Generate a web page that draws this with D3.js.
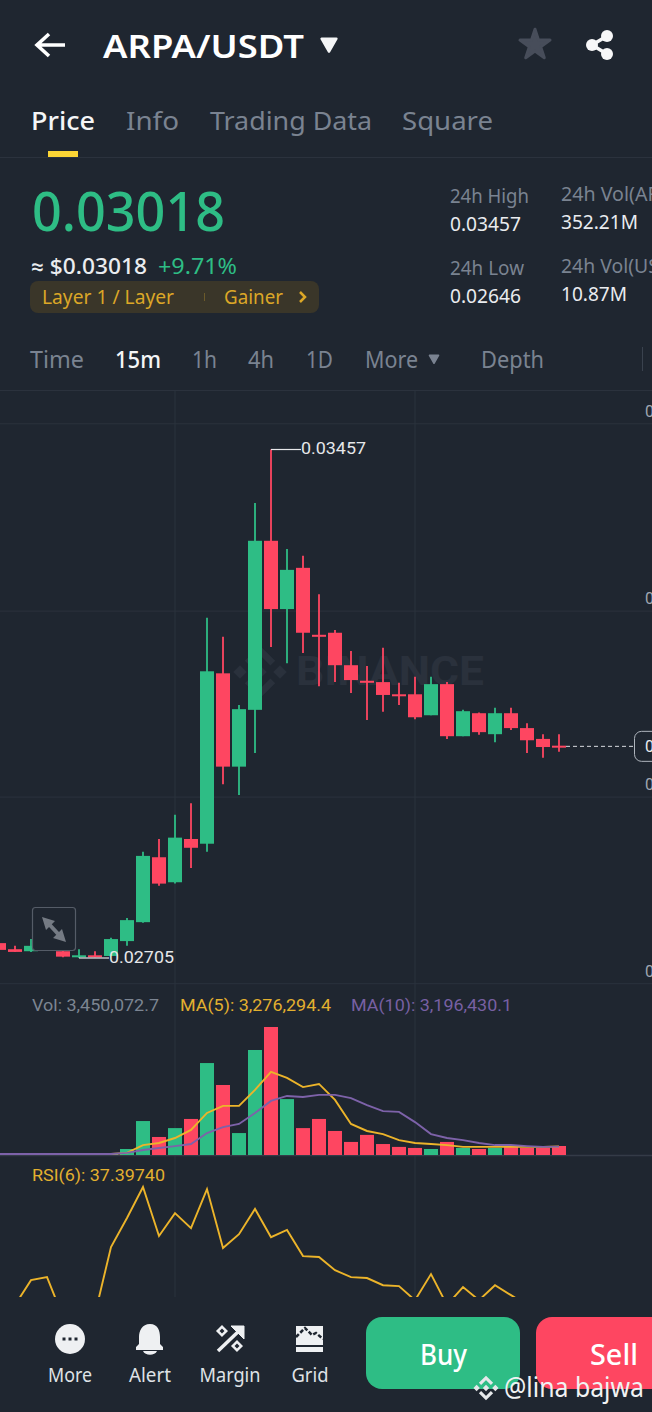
<!DOCTYPE html>
<html>
<head>
<meta charset="utf-8">
<title>ARPA/USDT</title>
<script src="https://cdn.jsdelivr.net/npm/d3@7"></script>
<style>
	html, body { margin: 0; padding: 0; background: #1f2630; overflow: hidden; }
	svg { display: block; }
	text { font-family: "Noto Sans", Roboto, sans-serif; }
</style>
</head>
<body>
<div id="chart"></div>
<script>
//candle values, left to right
var opens = [0.02727,0.02718,0.02715,0.02723,0.02715,0.02707,0.02709,0.02708,0.02730,0.02758,0.02854,0.02817,0.02881,0.02874,0.03126,0.02988,0.03072,0.03322,0.03221,0.03282,0.03183,0.03186,0.03138,0.03115,0.03113,0.03095,0.03095,0.03064,0.03110,0.03033,0.03067,0.03036,0.03067,0.03045,0.03029,0.03019];
var highs = [0.02730,0.02723,0.02733,0.02728,0.02716,0.02718,0.02715,0.02735,0.02764,0.02862,0.02881,0.02917,0.02934,0.03208,0.03180,0.03079,0.03378,0.03457,0.03310,0.03300,0.03243,0.03190,0.03159,0.03137,0.03164,0.03112,0.03121,0.03121,0.03113,0.03072,0.03068,0.03075,0.03075,0.03052,0.03036,0.03036];
var lows = [0.02715,0.02714,0.02714,0.02717,0.02706,0.02705,0.02706,0.02708,0.02723,0.02757,0.02812,0.02815,0.02838,0.02862,0.02962,0.02946,0.03008,0.03165,0.03141,0.03156,0.03107,0.03113,0.03097,0.03057,0.03069,0.03079,0.03058,0.03064,0.03029,0.03033,0.03035,0.03024,0.03042,0.03008,0.03001,0.03010];
var closes = [0.02717,0.02714,0.02723,0.02720,0.02707,0.02709,0.02707,0.02733,0.02761,0.02856,0.02815,0.02883,0.02868,0.03129,0.02988,0.03073,0.03322,0.03221,0.03279,0.03186,0.03180,0.03138,0.03116,0.03112,0.03094,0.03093,0.03061,0.03110,0.03033,0.03070,0.03039,0.03067,0.03045,0.03027,0.03017,0.03018];

//volume in millions and its moving averages
var volumes = [0.2,0.2,0.2,0.2,0.2,0.2,0.2,0.4,2.3,13.0,6.9,10.3,13.8,35.2,26.8,8.4,40.2,49.0,21.4,10.3,13.8,9.2,5.0,7.7,4.2,3.1,2.7,2.3,5.0,2.7,2.3,2.7,3.1,2.7,2.7,3.45];
var ma5 = [0.4,0.4,0.4,0.4,0.4,0.4,0.4,0.4,0.8,3.8,4.6,6.5,9.6,16.1,18.8,18.8,24.9,31.8,29.5,26.0,27.2,21.1,11.9,9.2,8.0,5.7,4.6,4.2,3.8,3.1,3.1,3.1,3.1,3.1,3.1,3.28];
var ma10 = [0.4,0.4,0.4,0.4,0.4,0.4,0.4,0.4,0.8,1.9,2.7,3.4,4.2,8.4,10.7,11.9,16.1,20.7,22.6,22.2,23.0,23.0,21.8,19.1,16.8,16.5,12.6,8.0,6.5,5.7,4.6,3.8,3.8,3.4,3.1,3.2];

//RSI(6), mostly running below the visible part of the pane
var rsi = [40.7,45.7,54,55,41.7,40.7,42.7,65,74.7,85,68.7,76.3,71.3,84.3,64.7,69.3,77.7,68.3,70.7,62,61.7,57.3,55,54.7,52.3,52,47.3,56,45.7,51.7,47.3,52.3,49,45.7,41.3,37.3974];

var priceTicks = [0.03495, 0.03218, 0.02943, 0.02667];
var gridCandles = [11, 26]; //candles that carry a vertical grid line
var lastPrice = 0.03018, highPrice = 0.03457, lowPrice = 0.02705;
var highIndex = 17, lowIndex = 5;

var tabs = ["Price", "Info", "Trading Data", "Square"];
var intervals = ["Time", "15m", "1h", "4h", "1D", "More", "Depth"];
var tools = ["More", "Alert", "Margin", "Grid"];

//colours
var bg = "#1f2630",
	gridColour = "#2b323d",
	green = "#2ebd85",
	red = "#fe4661",
	grey = "#7a8391",
	lightText = "#eaecef",
	yellow = "#ecb42a",
	purple = "#7d62a9";

var width = 652, height = 1412;

var svg = d3.select("#chart")
	.append("svg")
	.attr("width", width)
	.attr("height", height);

//scales
var x = d3.scaleBand()
	.domain(d3.range(opens.length))
	.range([-9, 567])
	.paddingInner(0.125)
	.paddingOuter(0.0625);
var xMid = function(i) { return x(i) + x.bandwidth() / 2; };

var yPrice = d3.scaleLinear().domain([lowPrice, highPrice]).range([958, 449.5]);
var yVol = d3.scaleLinear().domain([0, 49]).range([1155, 1027]);
var yRsi = d3.scaleLinear().domain([85, 37.3974]).range([1187, 1330]);

//small helper for all the text on the page, len fits the text to a measured width
function label(str, px, py, size, colour, weight, len, anchor) {
	var t = svg.append("text")
		.attr("x", px)
		.attr("y", py)
		.attr("font-size", size)
		.attr("fill", colour)
		.attr("font-weight", weight || 400)
		.attr("text-anchor", anchor || "start")
		.text(str);
	if (len) {
		t.attr("textLength", len).attr("lengthAdjust", "spacingAndGlyphs");
	}
	return t;
}

//the labels inside the chart use Roboto
function chartLabel(str, px, py, size, colour, weight, len) {
	return label(str, px, py, size, colour, weight, len).style("font-family", "Roboto");
}

function drawHeader() {
	//back arrow
	svg.append("path")
		.attr("d", "M36 45H65M49 34L37 45L49 56")
		.attr("fill", "none")
		.attr("stroke", "#fff")
		.attr("stroke-width", 3.6);
	label("ARPA/USDT", 103, 58, 32, "#fff", 600, 201);

	//dropdown triangle
	svg.append("path")
		.attr("d", d3.symbol(d3.symbolTriangle, 95))
		.attr("transform", "translate(329,43) rotate(180)")
		.attr("fill", "#f4f5f6")
		.attr("stroke", "#f4f5f6")
		.attr("stroke-width", 2.5)
		.attr("stroke-linejoin", "round");

	//star
	svg.append("path")
		.attr("d", d3.symbol(d3.symbolStar, 280))
		.attr("transform", "translate(535,45)")
		.attr("fill", "#474d5a")
		.attr("stroke", "#474d5a")
		.attr("stroke-width", 3)
		.attr("stroke-linejoin", "round");

	//share
	var share = svg.append("g").attr("fill", "#f7f7f8").attr("stroke", "#f7f7f8");
	share.append("path").attr("d", "M607 36L592 45L607 54").attr("fill", "none").attr("stroke-width", 3.5);
	[[592, 45], [607, 36], [607, 54]].forEach(function(p) {
		share.append("circle").attr("cx", p[0]).attr("cy", p[1]).attr("r", 6).attr("stroke", "none");
	});

	//tabs
	var tabX = [31, 126, 210, 402], tabLen = [64, 53, 162, 91];
	tabs.forEach(function(d, i) {
		label(d, tabX[i], 130, 26, i == 0 ? "#f5f6f7" : grey, i == 0 ? 500 : 400, tabLen[i]);
	});
	svg.append("rect").attr("x", 0).attr("y", 157).attr("width", width).attr("height", 1).attr("fill", gridColour);
	svg.append("rect").attr("x", 48).attr("y", 151).attr("width", 30).attr("height", 6).attr("fill", "#fcd535");

	//price block
	label("0.03018", 32, 231, 55, green, 500, 193);
	label("≈ $0.03018", 31, 274, 22, lightText, 500, 116);
	label("+9.71%", 158, 274, 22, green, 400, 79);

	svg.append("rect").attr("x", 30).attr("y", 281).attr("width", 289).attr("height", 32).attr("rx", 8).attr("fill", "#3a3629");
	label("Layer 1 / Layer", 42, 304, 20, "#dca727", 400, 132);
	svg.append("rect").attr("x", 204).attr("y", 293).attr("width", 1).attr("height", 8).attr("fill", "#6b5a2a");
	label("Gainer", 224, 304, 20, "#dca727", 400, 59);
	svg.append("path").attr("d", "M300 292L305 297L300 302").attr("fill", "none").attr("stroke", "#dca727").attr("stroke-width", 2.5);

	//24h stats
	label("24h High", 450, 203, 20, grey, 400, 79);
	label("0.03457", 450, 231, 20, lightText, 400, 71);
	label("24h Low", 450, 275, 20, grey, 400, 74);
	label("0.02646", 450, 303, 20, lightText, 400, 71);
	label("24h Vol(ARPA)", 561, 201, 20, grey, 400, 128);
	label("352.21M", 561, 229, 20, lightText, 400, 77);
	label("24h Vol(USDT)", 561, 273, 20, grey, 400, 128);
	label("10.87M", 561, 301, 20, lightText, 400, 66);

	//interval row
	var intX = [30, 115, 192, 248, 306, 365, 481], intLen = [54, 46, 25, 26, 27, 53, 63];
	intervals.forEach(function(d, i) {
		label(d, intX[i], 368, 23, d == "15m" ? "#f5f6f7" : grey, d == "15m" ? 500 : 400, intLen[i]);
	});
	svg.append("path")
		.attr("d", d3.symbol(d3.symbolTriangle, 36))
		.attr("transform", "translate(434,358) rotate(180)")
		.attr("fill", grey)
		.attr("stroke", grey)
		.attr("stroke-width", 1.5)
		.attr("stroke-linejoin", "round");
	svg.append("rect").attr("x", 642).attr("y", 347).attr("width", 1).attr("height", 24).attr("fill", "#3a424e");
}

function binanceLogo(g, cx, cy, s, colour) {
	//the diamond mark: one square in the middle, corners round it
	[[0, 0, 0.3], [-1, 0, 0.3], [1, 0, 0.3]].forEach(function(p) {
		g.append("rect")
			.attr("x", -s * p[2]).attr("y", -s * p[2])
			.attr("width", s * p[2] * 2).attr("height", s * p[2] * 2)
			.attr("fill", colour)
			.attr("transform", "translate(" + (cx + p[0] * s * 1.25) + "," + cy + ") rotate(45)");
	});
	g.append("path")
		.attr("d", "M" + (cx - s * 0.8) + " " + (cy - s * 0.55) + "L" + cx + " " + (cy - s * 1.35) + "L" + (cx + s * 0.8) + " " + (cy - s * 0.55)
			+ "M" + (cx - s * 0.8) + " " + (cy + s * 0.55) + "L" + cx + " " + (cy + s * 1.35) + "L" + (cx + s * 0.8) + " " + (cy + s * 0.55))
		.attr("fill", "none")
		.attr("stroke", colour)
		.attr("stroke-width", s * 0.42);
}

function drawGrid() {
	svg.append("rect").attr("x", 0).attr("y", 390).attr("width", width).attr("height", 1).attr("fill", gridColour);

	svg.selectAll(".hgrid")
		.data(priceTicks)
		.enter()
		.append("line")
		.attr("x1", 0)
		.attr("x2", width)
		.attr("y1", function(d) { return yPrice(d); })
		.attr("y2", function(d) { return yPrice(d); })
		.attr("stroke", gridColour);

	svg.selectAll(".vgrid")
		.data(gridCandles)
		.enter()
		.append("line")
		.attr("x1", function(d) { return xMid(d); })
		.attr("x2", function(d) { return xMid(d); })
		.attr("y1", 391)
		.attr("y2", 1297)
		.attr("stroke", gridColour);

	//volume baseline
	svg.append("line").attr("x1", 0).attr("x2", width).attr("y1", yVol(0) + 0.5).attr("y2", yVol(0) + 0.5).attr("stroke", "#343b47").attr("stroke-width", 1.5);

	//watermark under the candles
	var mark = svg.append("g");
	binanceLogo(mark, 260, 672, 16, "#2a313c");
	chartLabel("BINANCE", 296, 685, 40, "#2a313c", 700, 188);

	//price axis, only the first character fits in the window
	var axis = svg.append("g")
		.attr("transform", "translate(645,0)")
		.call(d3.axisRight(yPrice).tickValues(priceTicks).tickSize(0).tickPadding(0).tickFormat(d3.format(".5f")));
	axis.select(".domain").remove();
	axis.selectAll("text")
		.attr("dy", "-0.48em")
		.attr("font-size", 16)
		.style("font-family", "Roboto")
		.attr("fill", "#a0a7b2");
}

function drawCandles() {
	var idx = d3.range(opens.length);
	var colour = function(i) { return closes[i] >= opens[i] ? green : red; };

	svg.selectAll(".wick")
		.data(idx)
		.enter()
		.append("line")
		.attr("class", "wick")
		.attr("x1", xMid)
		.attr("x2", xMid)
		.attr("y1", function(i) { return yPrice(highs[i]); })
		.attr("y2", function(i) { return yPrice(lows[i]); })
		.attr("stroke", colour)
		.attr("stroke-width", 1.8);

	svg.selectAll(".body")
		.data(idx)
		.enter()
		.append("rect")
		.attr("class", "body")
		.attr("x", function(i) { return x(i); })
		.attr("width", x.bandwidth())
		.attr("y", function(i) { return yPrice(Math.max(opens[i], closes[i])); })
		.attr("height", function(i) { return Math.max(2, Math.abs(yPrice(opens[i]) - yPrice(closes[i]))); })
		.attr("fill", colour);

	//high and low callouts
	svg.append("line")
		.attr("x1", xMid(highIndex)).attr("x2", xMid(highIndex) + 30)
		.attr("y1", yPrice(highPrice)).attr("y2", yPrice(highPrice))
		.attr("stroke", "#e6e8ea").attr("stroke-width", 1.2);
	chartLabel(d3.format(".5f")(highPrice), xMid(highIndex) + 30, yPrice(highPrice) + 4, 17, "#e6e8ea", 400, 65);

	svg.append("line")
		.attr("x1", xMid(lowIndex)).attr("x2", xMid(lowIndex) + 30)
		.attr("y1", yPrice(lowPrice)).attr("y2", yPrice(lowPrice))
		.attr("stroke", "#e6e8ea").attr("stroke-width", 1.2);
	chartLabel(d3.format(".5f")(lowPrice), xMid(lowIndex) + 30, yPrice(lowPrice) + 5, 17, "#e6e8ea", 400, 65);

	//last price line and box
	svg.append("line")
		.attr("x1", xMid(opens.length - 1) + 7).attr("x2", 634)
		.attr("y1", yPrice(lastPrice)).attr("y2", yPrice(lastPrice))
		.attr("stroke", "#d8dbe0")
		.attr("stroke-dasharray", "4 3");
	svg.append("rect")
		.attr("x", 634.5).attr("y", yPrice(lastPrice) - 15).attr("width", 60).attr("height", 30).attr("rx", 7)
		.attr("fill", bg).attr("stroke", "#aeb4bc");
	chartLabel(d3.format(".5f")(lastPrice), 645, yPrice(lastPrice) + 6, 16, "#eaecef", 400);

	//expand button sits on top of the candles
	svg.append("rect")
		.attr("x", 32.5).attr("y", 907.5).attr("width", 43).attr("height", 43).attr("rx", 3)
		.attr("fill", bg).attr("stroke", "#555c67").attr("stroke-width", 1.2);
	svg.append("path")
		.attr("d", "M42 917L55 921L46 930ZM66 942L53 938L62 929Z")
		.attr("fill", "#757b84");
	svg.append("path")
		.attr("d", "M48 923L60 936")
		.attr("stroke", "#757b84")
		.attr("stroke-width", 4);
}

function drawVolume() {
	var idx = d3.range(volumes.length);

	svg.selectAll(".vol")
		.data(idx)
		.enter()
		.append("rect")
		.attr("class", "vol")
		.attr("x", function(i) { return x(i); })
		.attr("width", x.bandwidth())
		.attr("y", function(i) { return yVol(volumes[i]); })
		.attr("height", function(i) { return yVol(0) - yVol(volumes[i]); })
		.attr("fill", function(i) { return closes[i] >= opens[i] ? green : red; });

	var maLine = d3.line()
		.x(function(d, i) { return xMid(i); })
		.y(function(d) { return yVol(d); });

	svg.append("path").attr("d", maLine(ma5)).attr("fill", "none").attr("stroke", yellow).attr("stroke-width", 1.9);
	svg.append("path").attr("d", maLine(ma10)).attr("fill", "none").attr("stroke", purple).attr("stroke-width", 1.9);

	chartLabel("Vol: 3,450,072.7", 32, 1011, 16.5, "#7c8592", 400, 127);
	chartLabel("MA(5): 3,276,294.4", 180, 1011, 16.5, "#e3b02f", 400, 151);
	chartLabel("MA(10): 3,196,430.1", 351, 1011, 16.5, "#7860a3", 400, 161);
}

function drawRsi() {
	svg.append("clipPath")
		.attr("id", "rsiClip")
		.append("rect")
		.attr("x", 0).attr("y", 1160).attr("width", width).attr("height", 137);

	var rsiLine = d3.line()
		.x(function(d, i) { return xMid(i); })
		.y(function(d) { return yRsi(d); });

	svg.append("path")
		.attr("d", rsiLine(rsi))
		.attr("clip-path", "url(#rsiClip)")
		.attr("fill", "none")
		.attr("stroke", yellow)
		.attr("stroke-width", 1.9);

	chartLabel("RSI(6): 37.39740", 32, 1181, 16.5, "#e3b02f", 400, 133);
}

function drawToolbar() {
	var iconColour = "#eef0f2";
	var toolX = [70, 150, 230, 310], toolLen = [44, 42, 61, 37];
	tools.forEach(function(d, i) {
		label(d, toolX[i], 1382, 20, "#dfe2e6", 400, toolLen[i], "middle");
	});

	//more
	svg.append("ellipse").attr("cx", 70).attr("cy", 1339).attr("rx", 15).attr("ry", 15).attr("fill", iconColour);
	[-6, 0, 6].forEach(function(d) {
		svg.append("rect").attr("x", 68.5 + d).attr("y", 1337.5).attr("width", 3).attr("height", 3).attr("fill", bg);
	});

	//alert
	svg.append("path")
		.attr("d", "M150 1324C158 1324 160 1331 160 1337L160 1344L163 1347V1350H136V1347L139 1344V1337C139 1331 142 1324 150 1324Z")
		.attr("fill", iconColour);
	svg.append("path").attr("d", "M143 1351H157C155 1356 145 1356 143 1351Z").attr("fill", iconColour);

	//margin
	svg.append("path").attr("d", "M218 1351L241 1329").attr("fill", "none").attr("stroke", iconColour).attr("stroke-width", 3.5);
	svg.append("path").attr("d", "M231 1326H244V1339Z").attr("fill", iconColour).attr("stroke", iconColour);
	[[222, 1331], [237, 1346]].forEach(function(p) {
		svg.append("rect").attr("x", -3).attr("y", -3).attr("width", 6).attr("height", 6).attr("fill", "none")
			.attr("stroke", iconColour).attr("stroke-width", 2.5)
			.attr("transform", "translate(" + p[0] + "," + p[1] + ") rotate(45)");
	});

	//grid
	svg.append("path").attr("d", "M296 1326H323V1345H296Z").attr("fill", iconColour);
	svg.append("path").attr("d", "M296 1337L305 1328L312 1335L316 1333L323 1339").attr("fill", "none").attr("stroke", bg).attr("stroke-width", 2.5).attr("stroke-dasharray", "4 2");
	svg.append("rect").attr("x", 296).attr("y", 1347).attr("width", 27).attr("height", 5).attr("fill", iconColour);

	//buttons
	svg.append("rect").attr("x", 366).attr("y", 1317).attr("width", 154).attr("height", 72).attr("rx", 16).attr("fill", green);
	svg.append("rect").attr("x", 536).attr("y", 1317).attr("width", 140).attr("height", 72).attr("rx", 16).attr("fill", red);
	label("Buy", 420, 1365, 28, "#fff", 500, 47);
	label("Sell", 590, 1365, 28, "#fff", 500, 48);

	//account watermark over the buttons
	var mark = svg.append("g");
	binanceLogo(mark, 486, 1388, 7.5, "#e6e8ea");
	label("@lina bajwa", 504, 1397, 28, "#f1f2f3", 400, 140);
}

drawHeader();
drawGrid();
drawCandles();
drawVolume();
drawRsi();
drawToolbar();
</script>
</body>
</html>
